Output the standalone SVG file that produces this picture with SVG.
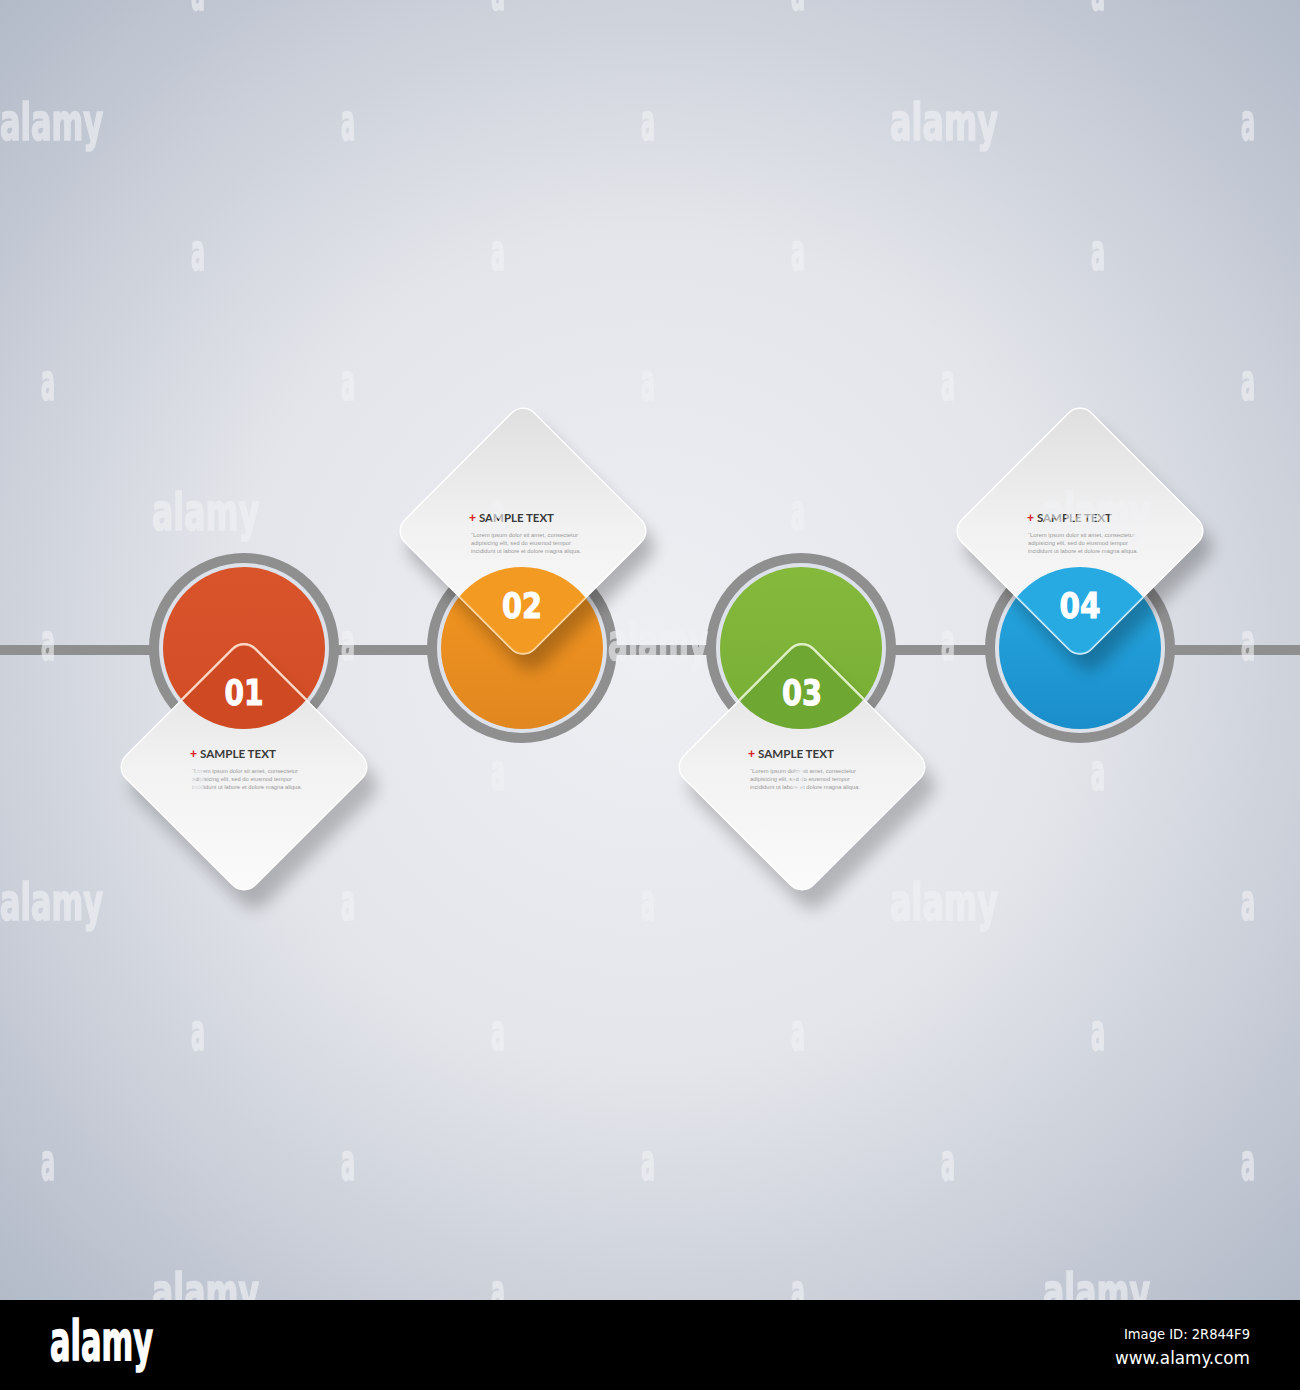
<svg xmlns="http://www.w3.org/2000/svg" xmlns:xlink="http://www.w3.org/1999/xlink" width="1300" height="1390" viewBox="0 0 1300 1390">
<style>
.ring{fill:#dde1e9;stroke:#8f8f8f;stroke-width:10}
.conn{stroke:#8f8f8f;stroke-width:10;fill:none}
.num{font-family:"DejaVu Sans",sans-serif;font-weight:bold;font-stretch:condensed;font-size:36px;fill:#fff;stroke:#fff;stroke-width:1;text-anchor:middle}
.plus{font-family:"Liberation Sans",sans-serif;font-weight:bold;font-size:12px;fill:#d8232a}
.title{font-family:"Lato","Liberation Sans",sans-serif;font-weight:bold;font-size:12px;fill:#3a3a3a}
.lorem{font-family:"Liberation Sans",sans-serif;font-size:6px;fill:#9a9a9a}
.wm{font-family:"DejaVu Sans",sans-serif;font-weight:bold;font-stretch:condensed;font-size:52px;fill:#f1f2f5;stroke:#f1f2f5;stroke-width:1.6;opacity:.62}
.wma{text-anchor:middle}
.foot{font-family:"DejaVu Sans",sans-serif;font-stretch:condensed;fill:#fff}
</style>
<defs>
<radialGradient id="bg" cx="50%" cy="50%" r="72%">
<stop offset="0" stop-color="#eeeff3"/>
<stop offset=".45" stop-color="#e3e5ea"/>
<stop offset="1" stop-color="#b1b9c7"/>
</radialGradient>
<linearGradient id="cardGrad" x1="0" y1="0" x2="1" y2="1">
<stop offset="0" stop-color="#dedede"/>
<stop offset=".5" stop-color="#f2f2f2"/>
<stop offset="1" stop-color="#fbfbfb"/>
</linearGradient>
<linearGradient id="g1" x1="0" y1="0" x2="0" y2="1"><stop offset="0" stop-color="#d9542b"/><stop offset="1" stop-color="#d24c25"/></linearGradient>
<linearGradient id="g2" x1="0" y1="0" x2="0" y2="1"><stop offset="0" stop-color="#f29520"/><stop offset="1" stop-color="#e1871f"/></linearGradient>
<linearGradient id="g3" x1="0" y1="0" x2="0" y2="1"><stop offset="0" stop-color="#84b93c"/><stop offset="1" stop-color="#78ae35"/></linearGradient>
<linearGradient id="g4" x1="0" y1="0" x2="0" y2="1"><stop offset="0" stop-color="#27a8e0"/><stop offset="1" stop-color="#1a8ecb"/></linearGradient>
<filter id="blur" x="-20%" y="-20%" width="140%" height="140%"><feGaussianBlur stdDeviation="8"/></filter>
<rect id="card" x="-91.5" y="-91.5" width="183" height="183" rx="16"/>
<clipPath id="clip1"><circle cx="244" cy="648" r="81"/></clipPath>
<clipPath id="clip2"><circle cx="522" cy="648" r="81"/></clipPath>
<clipPath id="clip3"><circle cx="801" cy="648" r="81"/></clipPath>
<clipPath id="clip4"><circle cx="1080" cy="648" r="81"/></clipPath>
</defs>

<rect id="background" x="0" y="0" width="1300" height="1300" fill="url(#bg)"/>

<g id="connectors">
<line class="conn" x1="0" y1="650" x2="150" y2="650"/>
<line class="conn" x1="337" y1="650" x2="429" y2="650"/>
<line class="conn" x1="615" y1="650" x2="708" y2="650"/>
<line class="conn" x1="894" y1="650" x2="987" y2="650"/>
<line class="conn" x1="1173" y1="650" x2="1300" y2="650"/>
</g>

<g id="node-01">
<circle class="ring" cx="244" cy="648" r="90"/>
<circle cx="244" cy="648" r="81" fill="url(#g1)"/>
<use xlink:href="#card" transform="translate(254,786) rotate(45)" fill="#000" opacity=".22" filter="url(#blur)"/>
<use xlink:href="#card" transform="translate(244,767) rotate(45)" fill="url(#cardGrad)" stroke="#fff" stroke-width="1.5"/>
<g clip-path="url(#clip1)">
<use xlink:href="#card" transform="translate(244,767) rotate(45)" fill="#cf4a22" stroke="#ffe2d2" stroke-opacity=".85" stroke-width="2.5"/>
</g>
<text class="num" x="244" y="705" textLength="39" lengthAdjust="spacingAndGlyphs">01</text>
<text class="plus" x="190" y="758">+</text>
<text class="title" x="200" y="758" textLength="76" lengthAdjust="spacingAndGlyphs">SAMPLE TEXT</text>
<text class="lorem" x="192" y="773" textLength="106" lengthAdjust="spacingAndGlyphs">“Lorem ipsum dolor sit amet, consectetur</text>
<text class="lorem" x="192" y="781" textLength="100" lengthAdjust="spacingAndGlyphs">adipisicing elit, sed do eiusmod tempor</text>
<text class="lorem" x="192" y="789" textLength="110" lengthAdjust="spacingAndGlyphs">incididunt ut labore et dolore magna aliqua.</text>
</g>

<g id="node-02">
<circle class="ring" cx="522" cy="648" r="90"/>
<circle cx="522" cy="648" r="81" fill="url(#g2)"/>
<use xlink:href="#card" transform="translate(531,547) rotate(45)" fill="#000" opacity=".25" filter="url(#blur)"/>
<use xlink:href="#card" transform="translate(523,531) rotate(45)" fill="url(#cardGrad)" stroke="#fff" stroke-width="1.5"/>
<g clip-path="url(#clip2)">
<use xlink:href="#card" transform="translate(523,531) rotate(45)" fill="#f39a22" stroke="#ffd9a8" stroke-opacity=".7" stroke-width="2"/>
</g>
<text class="num" x="522" y="618" textLength="40" lengthAdjust="spacingAndGlyphs">02</text>
<text class="plus" x="469" y="522">+</text>
<text class="title" x="479" y="522" textLength="75" lengthAdjust="spacingAndGlyphs">SAMPLE TEXT</text>
<text class="lorem" x="471" y="537" textLength="107" lengthAdjust="spacingAndGlyphs">“Lorem ipsum dolor sit amet, consectetur</text>
<text class="lorem" x="471" y="545" textLength="100" lengthAdjust="spacingAndGlyphs">adipisicing elit, sed do eiusmod tempor</text>
<text class="lorem" x="471" y="553" textLength="110" lengthAdjust="spacingAndGlyphs">incididunt ut labore et dolore magna aliqua.</text>
</g>

<g id="node-03">
<circle class="ring" cx="801" cy="648" r="90"/>
<circle cx="801" cy="648" r="81" fill="url(#g3)"/>
<use xlink:href="#card" transform="translate(812,786) rotate(45)" fill="#000" opacity=".22" filter="url(#blur)"/>
<use xlink:href="#card" transform="translate(802,767) rotate(45)" fill="url(#cardGrad)" stroke="#fff" stroke-width="1.5"/>
<g clip-path="url(#clip3)">
<use xlink:href="#card" transform="translate(802,767) rotate(45)" fill="#6fa733" stroke="#e6f5cf" stroke-opacity=".85" stroke-width="2.5"/>
</g>
<text class="num" x="802" y="705" textLength="40" lengthAdjust="spacingAndGlyphs">03</text>
<text class="plus" x="748" y="758">+</text>
<text class="title" x="758" y="758" textLength="76" lengthAdjust="spacingAndGlyphs">SAMPLE TEXT</text>
<text class="lorem" x="750" y="773" textLength="106" lengthAdjust="spacingAndGlyphs">“Lorem ipsum dolor sit amet, consectetur</text>
<text class="lorem" x="750" y="781" textLength="100" lengthAdjust="spacingAndGlyphs">adipisicing elit, sed do eiusmod tempor</text>
<text class="lorem" x="750" y="789" textLength="110" lengthAdjust="spacingAndGlyphs">incididunt ut labore et dolore magna aliqua.</text>
</g>

<g id="node-04">
<circle class="ring" cx="1080" cy="648" r="90"/>
<circle cx="1080" cy="648" r="81" fill="url(#g4)"/>
<use xlink:href="#card" transform="translate(1089,547) rotate(45)" fill="#000" opacity=".25" filter="url(#blur)"/>
<use xlink:href="#card" transform="translate(1080,531) rotate(45)" fill="url(#cardGrad)" stroke="#fff" stroke-width="1.5"/>
<g clip-path="url(#clip4)">
<use xlink:href="#card" transform="translate(1080,531) rotate(45)" fill="#27aae2" stroke="#d4efff" stroke-opacity=".7" stroke-width="2"/>
</g>
<text class="num" x="1080" y="618" textLength="41" lengthAdjust="spacingAndGlyphs">04</text>
<text class="plus" x="1027" y="522">+</text>
<text class="title" x="1037" y="522" textLength="75" lengthAdjust="spacingAndGlyphs">SAMPLE TEXT</text>
<text class="lorem" x="1028" y="537" textLength="107" lengthAdjust="spacingAndGlyphs">“Lorem ipsum dolor sit amet, consectetur</text>
<text class="lorem" x="1028" y="545" textLength="100" lengthAdjust="spacingAndGlyphs">adipisicing elit, sed do eiusmod tempor</text>
<text class="lorem" x="1028" y="553" textLength="110" lengthAdjust="spacingAndGlyphs">incididunt ut labore et dolore magna aliqua.</text>
</g>

<g id="watermarks" class="wm">
<text class="wma" x="198" y="10" textLength="14" lengthAdjust="spacingAndGlyphs">a</text>
<text class="wma" x="498" y="10" textLength="14" lengthAdjust="spacingAndGlyphs">a</text>
<text class="wma" x="798" y="10" textLength="14" lengthAdjust="spacingAndGlyphs">a</text>
<text class="wma" x="1098" y="10" textLength="14" lengthAdjust="spacingAndGlyphs">a</text>

<text x="0" y="140" textLength="103" lengthAdjust="spacingAndGlyphs">alamy</text>
<text class="wma" x="348" y="140" textLength="14" lengthAdjust="spacingAndGlyphs">a</text>
<text class="wma" x="648" y="140" textLength="14" lengthAdjust="spacingAndGlyphs">a</text>
<text x="890" y="140" textLength="108" lengthAdjust="spacingAndGlyphs">alamy</text>
<text class="wma" x="1248" y="140" textLength="14" lengthAdjust="spacingAndGlyphs">a</text>

<text class="wma" x="198" y="270" textLength="14" lengthAdjust="spacingAndGlyphs">a</text>
<text class="wma" x="498" y="270" textLength="14" lengthAdjust="spacingAndGlyphs">a</text>
<text class="wma" x="798" y="270" textLength="14" lengthAdjust="spacingAndGlyphs">a</text>
<text class="wma" x="1098" y="270" textLength="14" lengthAdjust="spacingAndGlyphs">a</text>

<text class="wma" x="48" y="400" textLength="14" lengthAdjust="spacingAndGlyphs">a</text>
<text class="wma" x="348" y="400" textLength="14" lengthAdjust="spacingAndGlyphs">a</text>
<text class="wma" x="648" y="400" textLength="14" lengthAdjust="spacingAndGlyphs">a</text>
<text class="wma" x="948" y="400" textLength="14" lengthAdjust="spacingAndGlyphs">a</text>
<text class="wma" x="1248" y="400" textLength="14" lengthAdjust="spacingAndGlyphs">a</text>

<text x="152" y="530" textLength="107" lengthAdjust="spacingAndGlyphs">alamy</text>
<text class="wma" x="498" y="530" textLength="14" lengthAdjust="spacingAndGlyphs">a</text>
<text class="wma" x="798" y="530" textLength="14" lengthAdjust="spacingAndGlyphs">a</text>
<text x="1043" y="530" textLength="107" lengthAdjust="spacingAndGlyphs">alamy</text>

<text class="wma" x="48" y="660" textLength="14" lengthAdjust="spacingAndGlyphs">a</text>
<text class="wma" x="348" y="660" textLength="14" lengthAdjust="spacingAndGlyphs">a</text>
<text x="608" y="660" textLength="100" lengthAdjust="spacingAndGlyphs">alamy</text>
<text class="wma" x="948" y="660" textLength="14" lengthAdjust="spacingAndGlyphs">a</text>
<text class="wma" x="1248" y="660" textLength="14" lengthAdjust="spacingAndGlyphs">a</text>

<text class="wma" x="198" y="790" textLength="14" lengthAdjust="spacingAndGlyphs">a</text>
<text class="wma" x="498" y="790" textLength="14" lengthAdjust="spacingAndGlyphs">a</text>
<text class="wma" x="798" y="790" textLength="14" lengthAdjust="spacingAndGlyphs">a</text>
<text class="wma" x="1098" y="790" textLength="14" lengthAdjust="spacingAndGlyphs">a</text>

<text x="0" y="920" textLength="103" lengthAdjust="spacingAndGlyphs">alamy</text>
<text class="wma" x="348" y="920" textLength="14" lengthAdjust="spacingAndGlyphs">a</text>
<text class="wma" x="648" y="920" textLength="14" lengthAdjust="spacingAndGlyphs">a</text>
<text x="890" y="920" textLength="108" lengthAdjust="spacingAndGlyphs">alamy</text>
<text class="wma" x="1248" y="920" textLength="14" lengthAdjust="spacingAndGlyphs">a</text>

<text class="wma" x="198" y="1050" textLength="14" lengthAdjust="spacingAndGlyphs">a</text>
<text class="wma" x="498" y="1050" textLength="14" lengthAdjust="spacingAndGlyphs">a</text>
<text class="wma" x="798" y="1050" textLength="14" lengthAdjust="spacingAndGlyphs">a</text>
<text class="wma" x="1098" y="1050" textLength="14" lengthAdjust="spacingAndGlyphs">a</text>

<text class="wma" x="48" y="1180" textLength="14" lengthAdjust="spacingAndGlyphs">a</text>
<text class="wma" x="348" y="1180" textLength="14" lengthAdjust="spacingAndGlyphs">a</text>
<text class="wma" x="648" y="1180" textLength="14" lengthAdjust="spacingAndGlyphs">a</text>
<text class="wma" x="948" y="1180" textLength="14" lengthAdjust="spacingAndGlyphs">a</text>
<text class="wma" x="1248" y="1180" textLength="14" lengthAdjust="spacingAndGlyphs">a</text>

<text x="152" y="1310" textLength="107" lengthAdjust="spacingAndGlyphs">alamy</text>
<text class="wma" x="498" y="1310" textLength="14" lengthAdjust="spacingAndGlyphs">a</text>
<text class="wma" x="798" y="1310" textLength="14" lengthAdjust="spacingAndGlyphs">a</text>
<text x="1043" y="1310" textLength="107" lengthAdjust="spacingAndGlyphs">alamy</text>
</g>

<g id="footer">
<rect x="0" y="1300" width="1300" height="90" fill="#000"/>
<text class="foot" x="50" y="1360" font-size="56" font-weight="bold" stroke="#fff" stroke-width="1.5" textLength="103" lengthAdjust="spacingAndGlyphs">alamy</text>
<text class="foot" x="1250" y="1339" font-size="14" text-anchor="end" textLength="126" lengthAdjust="spacingAndGlyphs">Image ID: 2R844F9</text>
<text class="foot" x="1250" y="1364" font-size="17" text-anchor="end" textLength="135" lengthAdjust="spacingAndGlyphs">www.alamy.com</text>
</g>
</svg>
